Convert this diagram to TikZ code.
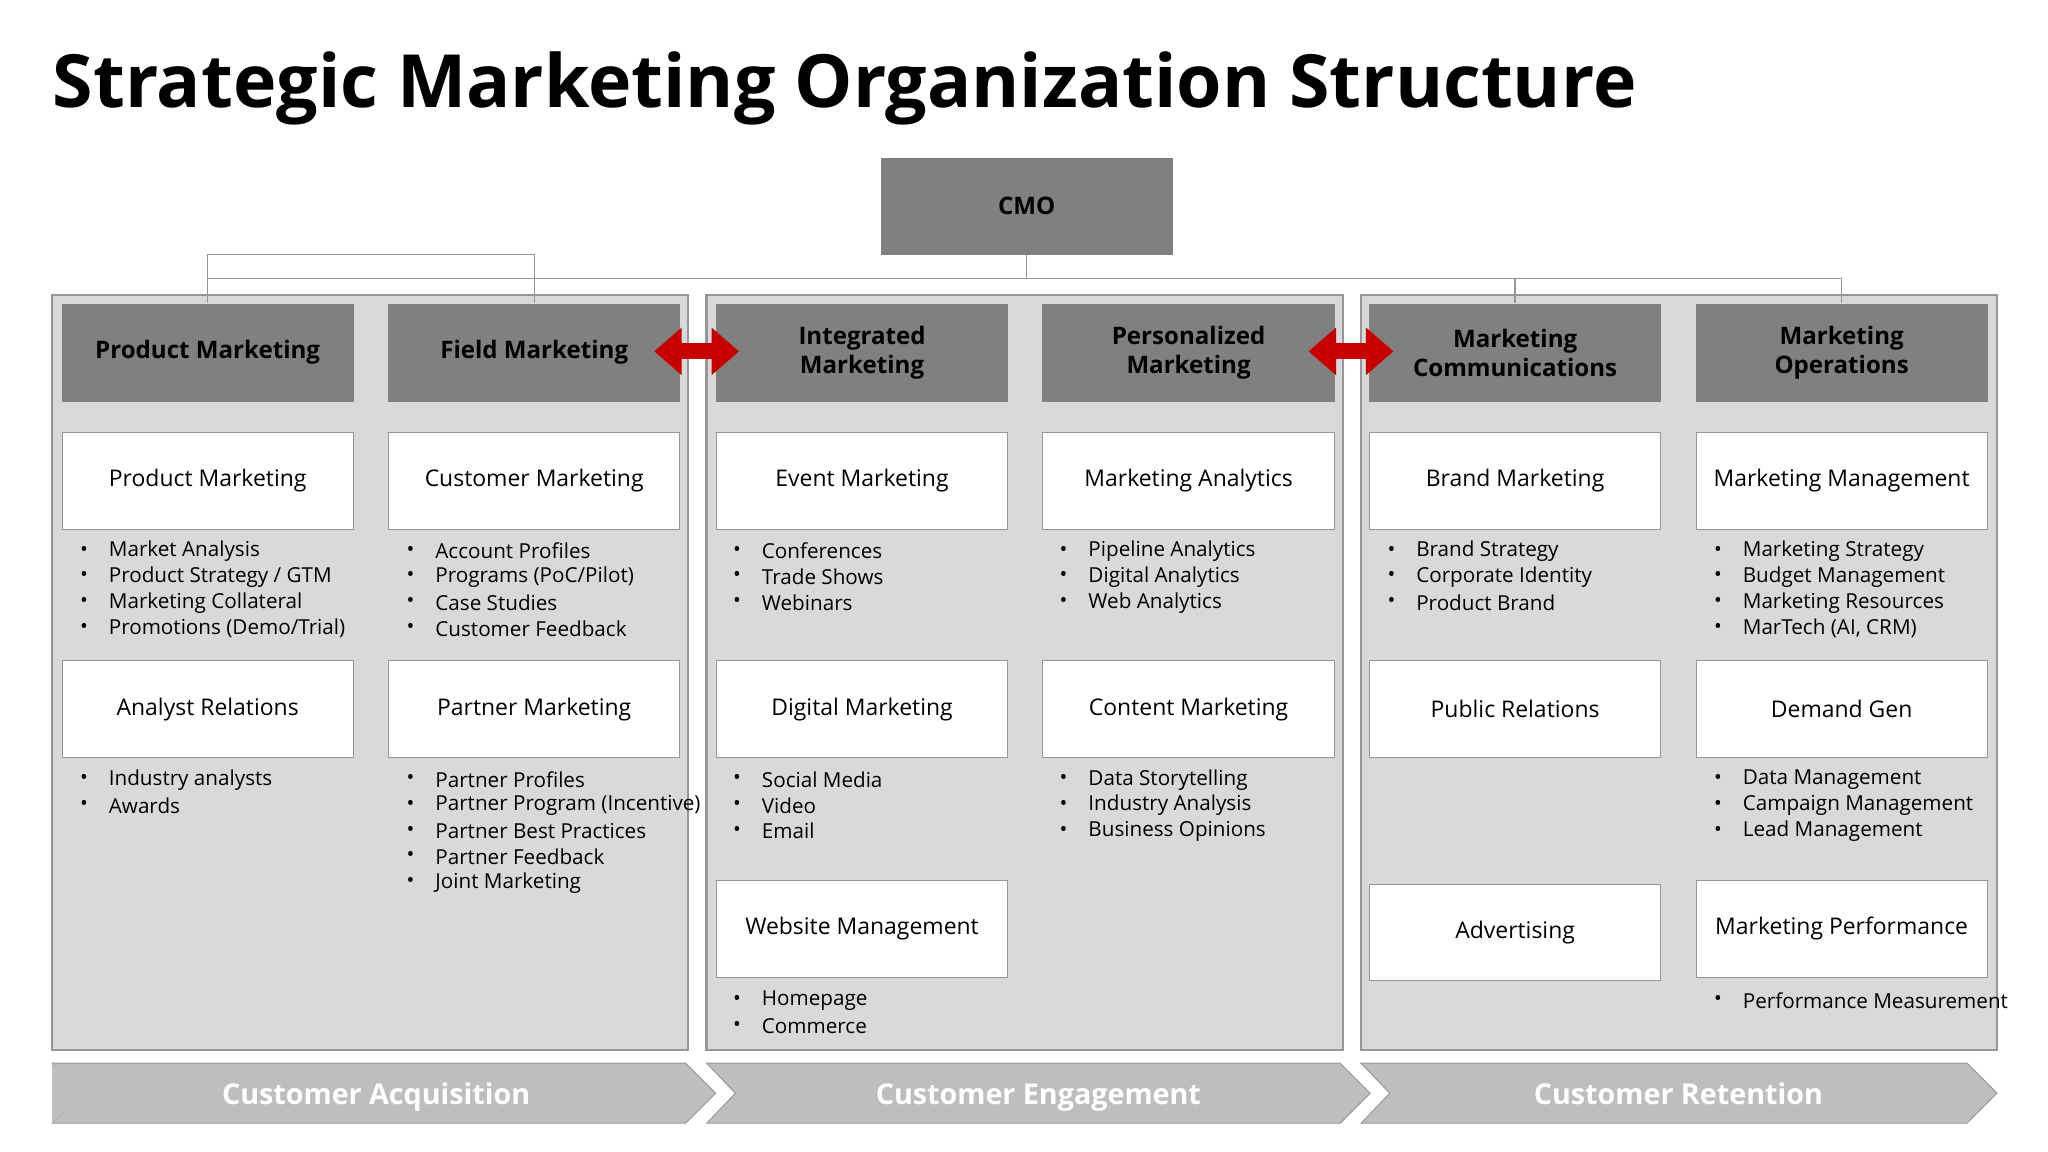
\documentclass[tikz,border=0pt]{standalone}
\usepackage{fontspec}
\setmainfont{Open Sans}
\usetikzlibrary{arrows.meta}
\definecolor{hdr}{RGB}{128,128,128}
\definecolor{pan}{RGB}{217,217,219}
\definecolor{panb}{RGB}{150,150,150}
\definecolor{chev}{RGB}{190,190,192}
\definecolor{redar}{RGB}{200,0,0}
\tikzset{
  hbox/.style={draw=hdr,fill=hdr,minimum width=223*0.02cm,minimum height=74*0.02cm,inner sep=0,align=center,font=\fontsize{10.5}{12.5}\selectfont\bfseries},
  wbox/.style={draw=panb,fill=white,minimum width=223*0.02cm,minimum height=74*0.02cm,inner sep=0,align=center,font=\fontsize{10}{12}\selectfont},
  bl/.style={anchor=west,inner sep=0,font=\fontsize{9}{11}\selectfont},
  conn/.style={draw=panb,line width=0.6pt},
  panel/.style={draw=panb,fill=pan,line width=1pt},
  dbl/.style={redar,line width=7pt,{Triangle[length=12pt,width=20pt]}-{Triangle[length=12pt,width=20pt]}}
}
\newcommand{\blist}[4]{% x, y, name, items
  \foreach \t [count=\i from 0] in {#4}{
    \node[bl] (#3b\i) at ({#1+13},{#2+\i*19.7}) {•};
    \node[bl] (#3t\i) at ({#1+35},{#2+\i*19.7}) {\t};
  }}
\begin{document}
\begin{tikzpicture}[x=0.02cm,y=-0.02cm]
\useasboundingbox (0,0) rectangle (1568,882);
\node[anchor=base west,inner sep=0,font=\fontsize{32}{40}\selectfont\bfseries] (title) at (40,82) {Strategic Marketing Organization Structure};
% panels
\draw[panel] (40,226) rectangle (527,804);
\draw[panel] (541,226) rectangle (1028,804);
\draw[panel] (1042,226) rectangle (1529,804);
% connectors
\node[hbox] (cmo) at (786,158) {CMO};
\coordinate (j) at (786,213);
\draw[conn] (cmo.south) -- (j);
\draw[conn] (159,213) -- (1410,213);
\draw[conn] (159,232) -- (159,195) -- (409,195) -- (409,232);
\draw[conn] (1160,213) -- (1160,232);
\draw[conn] (1410,213) -- (1410,232);
% headers
\foreach \x/\n/\t in {159/h1/Product Marketing,409/h2/Field Marketing,660/h3/Integrated\\Marketing,910/h4/Personalized\\Marketing,1160/h5/Marketing\\Communications,1410/h6/Marketing\\Operations}
  \node[hbox] (\n) at (\x,270) {\t};
% arrows
\draw[dbl] (h2.east)++(-20,-1) coordinate (a1) -- ++(65,0) coordinate (a2);
\draw[dbl] (h4.east)++(-20,-1) coordinate (a3) -- ++(65,0) coordinate (a4);
% white boxes
\node[wbox] (b11) at (159,368) {Product Marketing};
\node[wbox] (b12) at (159,543) {Analyst Relations};
\node[wbox] (b21) at (409,368) {Customer Marketing};
\node[wbox] (b22) at (409,543) {Partner Marketing};
\node[wbox] (b31) at (660,368) {Event Marketing};
\node[wbox] (b32) at (660,543) {Digital Marketing};
\node[wbox] (b33) at (660,711) {Website Management};
\node[wbox] (b41) at (910,368) {Marketing Analytics};
\node[wbox] (b42) at (910,543) {Content Marketing};
\node[wbox] (b51) at (1160,368) {Brand Marketing};
\node[wbox] (b52) at (1160,543) {Public Relations};
\node[wbox] (b53) at (1160,714) {Advertising};
\node[wbox] (b61) at (1410,368) {Marketing Management};
\node[wbox] (b62) at (1410,543) {Demand Gen};
\node[wbox] (b63) at (1410,711) {Marketing Performance};
% bullets
\blist{48}{422}{p1}{Market Analysis,Product Strategy / GTM,Marketing Collateral,Promotions (Demo/Trial)}
\blist{48}{597}{p2}{Industry analysts,Awards}
\blist{298}{422}{f1}{Account Profiles,Programs (PoC/Pilot),Case Studies,Customer Feedback}
\blist{298}{597}{f2}{Partner Profiles,Partner Program (Incentive),Partner Best Practices,Partner Feedback,Joint Marketing}
\blist{548}{422}{i1}{Conferences,Trade Shows,Webinars}
\blist{548}{597}{i2}{Social Media,Video,Email}
\blist{548}{766}{i3}{Homepage,Commerce}
\blist{798}{422}{q1}{Pipeline Analytics,Digital Analytics,Web Analytics}
\blist{798}{597}{q2}{Data Storytelling,Industry Analysis,Business Opinions}
\blist{1049}{422}{m1}{Brand Strategy,Corporate Identity,Product Brand}
\blist{1299}{422}{o1}{Marketing Strategy,Budget Management,Marketing Resources,{MarTech (AI, CRM)}}
\blist{1299}{597}{o2}{Data Management,Campaign Management,Lead Management}
\blist{1299}{766}{o3}{Performance Measurement}
% chevrons
\foreach \x/\n/\t/\c/\w in {40/c1/Customer Acquisition/248/508,541/c2/Customer Engagement/254/508,1042/c3/Customer Retention/243/487}{
  \fill[chev,draw=panb] (\x,814) -- (\x+\w-23,814) -- (\x+\w,837) -- (\x+\w-23,860) -- (\x,860) -- (\x+22,837) -- cycle;
  \node[anchor=base,inner sep=0,text=white,font=\fontsize{12.5}{15}\selectfont\bfseries] (\n) at (\x+\c,846) {\t};
}
\fill[chev] (40,814) -- (63,837) -- (40,860) -- cycle;
\end{tikzpicture}
\end{document}
